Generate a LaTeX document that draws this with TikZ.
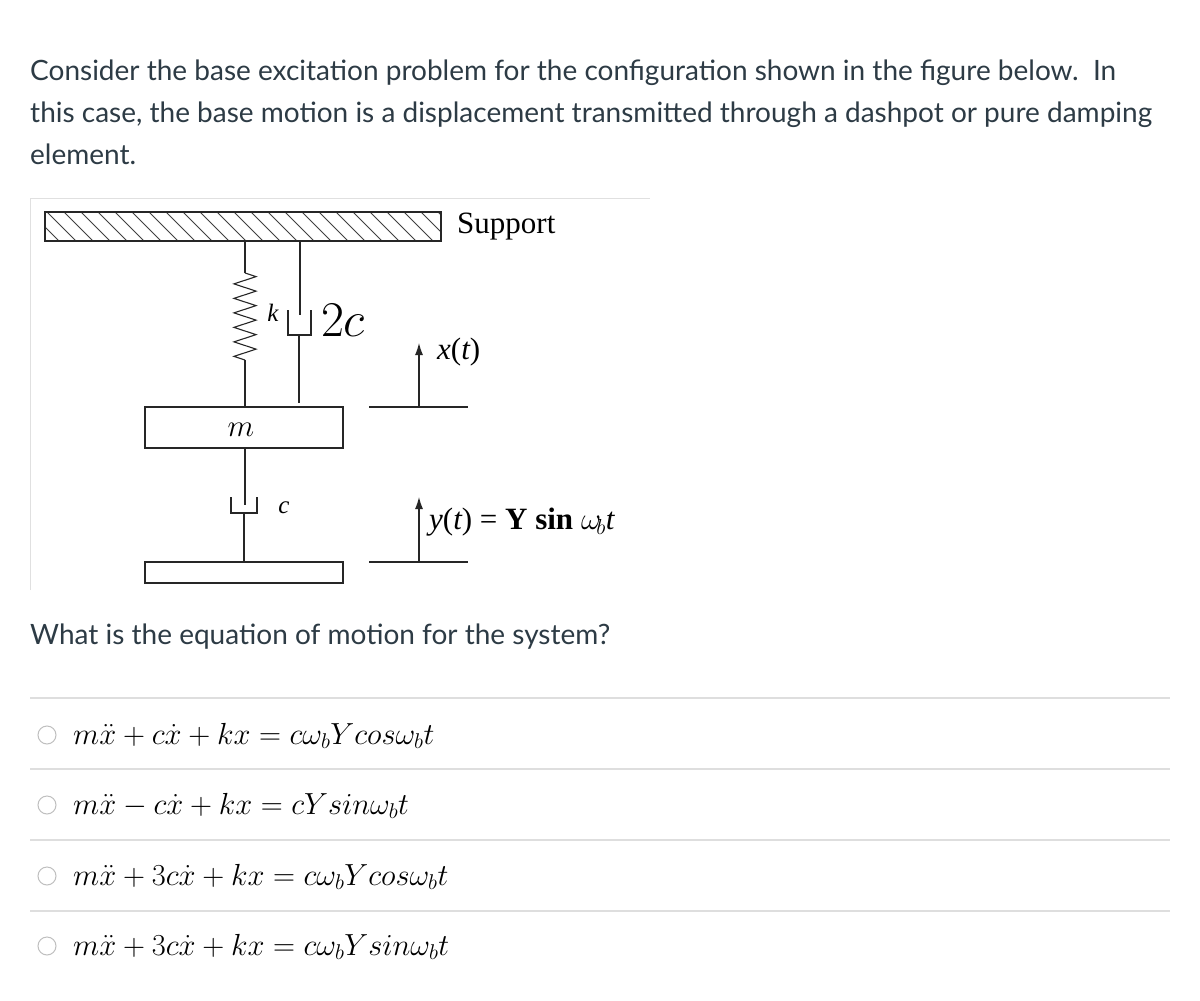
\RequirePackage{fix-cm}
\documentclass[tikz,border=0pt]{standalone}
\usepackage{fontspec}
\setmainfont{Lato}
\newfontfamily\lib{Liberation Serif}
\usetikzlibrary{decorations.pathmorphing,arrows.meta}
\definecolor{txt}{HTML}{2D3B45}
\begin{document}
\begin{tikzpicture}[x=1pt,y=-1pt,
  body/.style={anchor=base west,inner sep=0pt,text=txt,font=\fontsize{28}{33}\selectfont},
  eq/.style={anchor=base west,inner sep=0pt,font=\fontsize{30.5}{36}\selectfont},
  sep/.style={draw=black!13,line width=1.2pt},
  radio/.style={circle,draw=black!25,line width=1pt,minimum size=18pt,inner sep=0pt},
  ln/.style={line width=1.1pt,black!85},
  lbl/.style={inner sep=0pt,font=\fontsize{31}{36}\selectfont\lib},
  slbl/.style={inner sep=0pt,font=\fontsize{25}{30}\selectfont\lib\itshape}]
\useasboundingbox (0,0) rectangle (1200,1001);
\fill[white] (0,0) rectangle (1200,1001);
\node[body] (t1) at (30,80) {Consider the base excitation problem for the configuration shown in the figure below.\ \ In};
\node[body] (t2) at (30,122) {this case, the base motion is a displacement transmitted through a dashpot or pure damping};
\node[body] (t3) at (30,164) {element.};
% figure frame
\draw[black!12,line width=1pt] (30,590) -- (30,198) -- (650,198);
% support
\begin{scope}
\clip (45,212) rectangle (441,241);
\foreach \i in {0,...,24} {\draw[line width=1pt,black!75] (30+17*\i,212) -- (59+17*\i,241);}
\end{scope}
\draw[ln] (45,212) rectangle (441,241);
\node[lbl,anchor=west] (sup) at (457,227) {Support};
% spring
\coordinate (sp1) at (245,241); \coordinate (sp2) at (245,273);
\coordinate (sp3) at (245,360); \coordinate (sp4) at (245,407);
\draw[ln] (sp1) -- (sp2);
\draw[ln,decorate,decoration={zigzag,segment length=14.5pt,amplitude=11pt}] (sp2) -- (sp3);
\draw[ln] (sp3) -- (sp4);
\node[slbl] (k) at (273,313) {k};
% damper 2c
\coordinate (d1) at (300,241); \coordinate (d2) at (300,315);
\coordinate (d3) at (299,335); \coordinate (d4) at (299,403);
\draw[ln] (d1) -- (d2);
\draw[ln] (288,310) -- (288,335) -- (311,335) -- (311,310);
\draw[ln] (d3) -- (d4);
\node[inner sep=0pt,font=\fontsize{50}{54}\selectfont] (c2) at (343,320) {$2c$};
% mass
\draw[ln] (145,407) rectangle (343,448);
\node[lbl] (m) at (241,430) {$m$};
% lower damper
\draw[ln] (245,448) -- (245,505);
\draw[ln] (231,497) -- (231,513) -- (257,513) -- (257,497);
\draw[ln] (244,513) -- (244,562);
\node[slbl] (c) at (284,508) {c};
% base
\draw[ln] (145,562) rectangle (343,583);
% x(t)
\draw[ln] (369,407) -- (468,407);
\coordinate (xa) at (419,407); \coordinate (xb) at (419,343);
\draw[ln,-{Latex[length=12pt,width=8pt]}] (xa) -- (xb);
\node[lbl,anchor=west] (xl) at (437,352) {\itshape x\upshape(\itshape t\upshape)};
% y(t)
\draw[ln] (369,562) -- (468,562);
\coordinate (ya) at (419,562); \coordinate (yb) at (419,497);
\draw[ln,-{Latex[length=12pt,width=8pt]}] (ya) -- (yb);
\node[lbl,anchor=west] (yl) at (429,522) {\itshape y\upshape(\itshape t\upshape) = \bfseries Y \upshape sin \mdseries$\omega_{\!b}$\itshape t};
% question
\node[body] (q) at (30,644) {What is the equation of motion for the system?};
\draw[sep] (30,698) -- (1170,698);
\draw[sep] (30,769) -- (1170,769);
\draw[sep] (30,840) -- (1170,840);
\draw[sep] (30,911) -- (1170,911);
\node[radio] (r1) at (47,735) {};
\node[radio] (r2) at (47,805) {};
\node[radio] (r3) at (47,876) {};
\node[radio] (r4) at (47,946) {};
\node[eq] (e1) at (73,744) {$m\ddot{x}+c\dot{x}+kx=c\omega_bYcos\omega_bt$};
\node[eq] (e2) at (73,814) {$m\ddot{x}-c\dot{x}+kx=cYsin\omega_bt$};
\node[eq] (e3) at (73,885) {$m\ddot{x}+3c\dot{x}+kx=c\omega_bYcos\omega_bt$};
\node[eq] (e4) at (73,955) {$m\ddot{x}+3c\dot{x}+kx=c\omega_bYsin\omega_bt$};
\end{tikzpicture}
\end{document}
